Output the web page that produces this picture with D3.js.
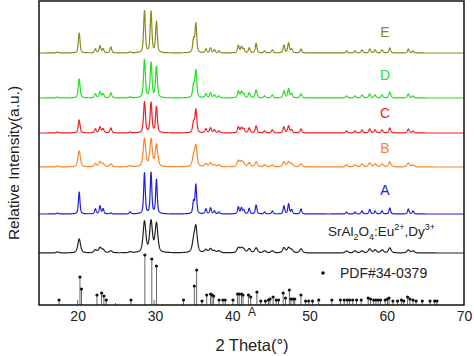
<!DOCTYPE html>
<html><head><meta charset="utf-8">
<script src="https://cdn.jsdelivr.net/npm/d3@7"></script>
<style>html,body{margin:0;padding:0;background:#fff;}svg{display:block;font-family:Arial,"Liberation Sans",sans-serif;}</style>
</head><body>
<svg id="c" width="474" height="356"></svg>
<script>
// ---- data ----
const xTicks = [20, 30, 40, 50, 60, 70];
const seriesNames = ["E", "D", "C", "B", "A", "SrAl2O4:Eu2+,Dy3+"];
const seriesOffsets = [252, 207, 172, 138, 91, 52];
const peakPos = [17.4, 20.2, 22.3, 22.9, 23.3, 24.3, 26.8, 28.65, 29.5, 30.2, 35.0, 35.3, 36.6, 37.2, 37.7, 38.3,
  40.8, 41.2, 41.5, 42.2, 43.1, 44.2, 45.2, 46.7, 47.3, 47.7, 48.9, 54.8, 55.9, 56.8, 57.8, 58.5, 59.4, 60.4, 62.8, 63.4];
const heightsE = [1, 20, 4, 7, 4, 6, 1, 42, 41, 31, 13, 29, 4, 5, 3, 2, 7.5, 6, 4, 5, 9.6, 2, 3, 7.6, 10, 4, 4, 2, 2, 3, 4, 3, 3, 5, 4, 2];
const heightsD = [1, 19, 4, 6, 4, 5, 1, 38, 35, 31, 12, 27, 4, 5, 3, 2, 7, 6, 4, 5, 8, 2, 3, 7, 9, 4, 4, 2, 2, 3, 4, 3, 3, 6, 4, 2];
const heightsC = [1, 13, 4, 6, 4, 5, 1, 31, 30, 26, 10, 23, 4, 5, 3, 2, 6, 5, 4, 5, 7, 2, 3, 6, 7, 3, 4, 2, 2, 3, 4, 3, 3, 5, 4, 2];
const heightsB = [1, 16, 3, 5, 3, 3, 1, 28, 27, 22, 9, 20, 3, 4, 2, 2, 6, 5, 3, 4, 5, 2, 2, 5, 5, 3, 3, 2, 2, 3, 4, 3, 3, 5, 4, 2];
const heightsA = [1, 22, 5, 8, 5, 1, 2, 41, 41, 34, 12, 29, 5, 6, 3, 2, 7, 6, 4, 5.5, 9, 2, 3, 8, 10, 4, 5, 2, 2, 3, 4.5, 3, 3, 6, 5, 3];
const heightsRef = [1, 14, 3, 5, 3, 2, 1, 31, 31, 29, 10, 25, 3, 4, 2, 2, 5, 4, 3, 4, 5, 2, 2, 5, 5, 3, 4, 2, 2, 2, 4, 3, 3, 5, 3, 2];
const stickPos = [17.6, 20.0, 20.3, 20.5, 22.5, 23.1, 23.4, 23.7, 24.9, 26.9, 28.7, 29.6, 29.9, 30.2, 33.7, 35.1, 35.4, 36.1,
  36.7, 37.2, 37.4, 37.6, 38.3, 38.8, 39.1, 40.1, 40.7, 40.9, 41.2, 41.4, 42.1, 42.4, 43.2, 43.7, 44.3, 44.7, 44.9, 45.3,
  45.7, 46.0, 46.6, 46.9, 47.4, 47.6, 47.9, 48.1, 48.9, 49.5, 49.9, 50.4, 51.2, 52.9, 54.0, 54.5, 54.9, 55.2, 55.6, 56.1,
  56.7, 57.6, 57.9, 58.3, 58.6, 58.9, 59.2, 59.8, 60.1, 60.3, 60.8, 61.4, 61.9, 62.2, 62.7, 63.0, 63.4, 63.8, 64.6, 65.6, 66.2, 66.5];
const stickInt = [10, 10, 56, 32, 20, 24, 18, 10, 4, 10, 100, 92, 10, 78, 10, 38, 70, 8,
  20, 22, 20, 18, 10, 10, 10, 10, 22, 22, 22, 20, 20, 16, 26, 8, 8, 10, 12, 16,
  10, 10, 24, 14, 30, 12, 12, 12, 20, 8, 8, 8, 10, 10, 10, 10, 10, 10, 10, 10,
  10, 14, 12, 10, 10, 10, 10, 10, 12, 14, 8, 8, 10, 8, 16, 12, 10, 8, 8, 8, 8, 8];
const stickNoMarker = [20.0, 24.9, 29.9];

// ---- styles ----
const colors = ["#8a8a22", "#22e022", "#ee2222", "#f7862a", "#2020dc", "#222222"];
const widths = [0.13, 0.14, 0.14, 0.19, 0.12, 0.21];
const labelPos = [[385, 37], [385, 80], [385, 118], [385, 153], [385, 195]];

const svg = d3.select("#c");
const L = 39, R = 464, T = 1, B = 305;
const x = d3.scaleLinear().domain([15, 70]).range([L, R]);
const y = d3.scaleLinear().domain([0, 304]).range([B, T]);
const yStick = d3.scaleLinear().domain([0, 100]).range([B, B - 50]);

const heights = [heightsE, heightsD, heightsC, heightsB, heightsA, heightsRef];
const grid = d3.range(15, 70.001, 0.02);
function profile(hs, w) {
  return grid.map(t => {
    let s = 0;
    for (let i = 0; i < peakPos.length; i++) {
      const u = (t - peakPos[i]) / w;
      s += hs[i] * (0.55 / (1 + u * u) + 0.45 * Math.exp(-0.693 * u * u));
    }
    return [t, s];
  });
}
svg.append("clipPath").attr("id", "pc").append("rect")
  .attr("x", L).attr("y", T).attr("width", R - L).attr("height", B - T);
const line = d3.line().x(d => x(d[0]));
heights.forEach((hs, k) => {
  const off = seriesOffsets[k];
  svg.append("path")
    .attr("clip-path", "url(#pc)")
    .attr("d", line.y(d => y(off + d[1]))(profile(hs, widths[k])))
    .attr("fill", "none").attr("stroke", colors[k]).attr("stroke-width", 1.2)
    .attr("stroke-linejoin", "round");
});

// sticks
const sticks = stickPos.map((p, i) => ({p, v: stickInt[i], m: !stickNoMarker.includes(p)}));
svg.append("g").selectAll("line").data(sticks).join("line")
  .attr("x1", d => x(d.p)).attr("x2", d => x(d.p))
  .attr("y1", B).attr("y2", d => yStick(d.v))
  .attr("stroke", "#666").attr("stroke-width", 1);
svg.append("g").selectAll("circle").data(sticks.filter(d => d.m)).join("circle")
  .attr("cx", d => x(d.p)).attr("cy", d => yStick(d.v)).attr("r", 1.6).attr("fill", "#111");

// series labels
seriesNames.slice(0, 5).forEach((n, k) => {
  svg.append("text").attr("x", labelPos[k][0]).attr("y", labelPos[k][1])
    .attr("text-anchor", "middle").attr("font-size", 14).attr("fill", colors[k]).text(n);
});
const sr = svg.append("text").attr("x", 328).attr("y", 236).attr("font-size", 13.5).attr("fill", "#222");
sr.append("tspan").text("SrAl");
sr.append("tspan").attr("dy", 4).attr("font-size", 9).text("2");
sr.append("tspan").attr("dy", -4).text("O");
sr.append("tspan").attr("dy", 4).attr("font-size", 9).text("4");
sr.append("tspan").attr("dy", -4).text(":Eu");
sr.append("tspan").attr("dy", -6).attr("font-size", 9).text("2+");
sr.append("tspan").attr("dy", 6).text(",Dy");
sr.append("tspan").attr("dy", -6).attr("font-size", 9).text("3+");

// PDF legend
svg.append("circle").attr("cx", 323).attr("cy", 273).attr("r", 1.8).attr("fill", "#111");
svg.append("text").attr("x", 340).attr("y", 278).attr("font-size", 14).attr("fill", "#222").text("PDF#34-0379");

// axes
const ax = svg.append("g").attr("transform", `translate(0,${B})`)
  .call(d3.axisBottom(x).tickValues(xTicks).tickSize(0).tickPadding(6).tickFormat(d3.format("d")));
ax.select(".domain").remove();
ax.selectAll("text").attr("font-size", 14).attr("fill", "#222").style("font-family", "Arial, 'Liberation Sans', sans-serif");
svg.append("text").attr("x", 252).attr("y", 316).attr("text-anchor", "middle").attr("font-size", 12).attr("fill", "#222").text("A");

svg.append("rect").attr("x", L).attr("y", T).attr("width", R - L).attr("height", B - T)
  .attr("fill", "none").attr("stroke", "#111").attr("stroke-width", 1.5);

svg.append("text").attr("x", 252).attr("y", 351).attr("text-anchor", "middle").attr("font-size", 16.5).attr("fill", "#222").text("2 Theta(°)");
svg.append("text").attr("transform", "translate(19,163) rotate(-90)").attr("text-anchor", "middle")
  .attr("font-size", 15.5).attr("fill", "#222").text("Relative Intensity(a.u.)");
</script>
</body></html>
